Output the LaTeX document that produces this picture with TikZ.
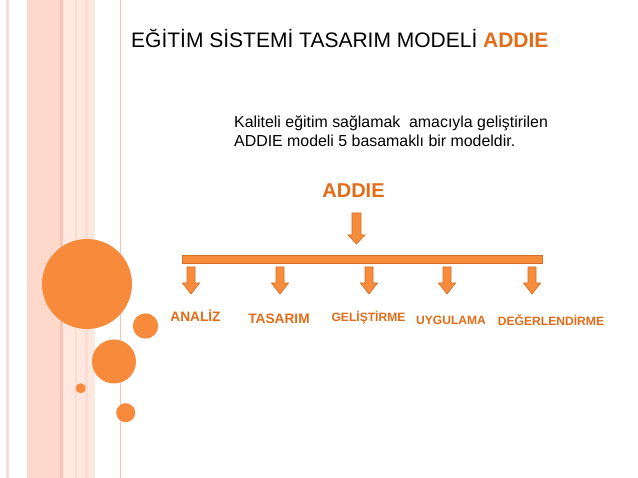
\documentclass[tikz,border=0pt]{standalone}
\usepackage{fontspec}
\setmainfont{Liberation Sans}
\definecolor{circ}{RGB}{248,138,60}
\definecolor{afill}{RGB}{246,140,60}
\definecolor{adraw}{RGB}{214,110,40}
\definecolor{dark}{RGB}{226,108,24}
\definecolor{pinkA}{RGB}{255,216,204}
\definecolor{pinkB}{RGB}{250,196,180}
\definecolor{pinkC}{RGB}{255,232,224}
\definecolor{pinkD}{RGB}{252,220,210}
\begin{document}
\begin{tikzpicture}[x=1pt,y=-1pt,
  stripe/.style={fill=#1,draw=none},
  dot/.style={fill=circ,draw=none},
  title/.style={font=\fontsize{21}{24}\selectfont,anchor=base west,inner sep=0},
  body/.style={font=\fontsize{15.9}{19}\selectfont,anchor=north west,align=left,inner sep=0},
  lbl/.style={font=\bfseries\fontsize{12.1}{14}\selectfont,text=dark,inner sep=0},
  lblbig/.style={font=\bfseries\fontsize{13.7}{16}\selectfont,text=dark,inner sep=0},
  blk/.style={fill=afill,draw=adraw,line width=0.7pt,line join=miter},
  smallarrow/.pic={\path[blk] (-4,0) -- (4,0) -- (4,16) -- (8.5,16) -- (0,27) -- (-8.5,16) -- (-4,16) -- cycle;}
]
\useasboundingbox (0,0) rectangle (638,478);
\fill[white] (0,0) rectangle (638,478);
% left stripes
\fill[pinkD] (6,0) rectangle (9,478);
\fill[pinkA] (27,0) rectangle (61,478);
\fill[pinkB] (60,0) rectangle (63,478);
\fill[pinkC] (63,0) rectangle (75,478);
\fill[pinkD] (75,0) rectangle (77,478);
\fill[pinkC] (77,0) rectangle (85,478);
\fill[pinkD] (85,0) rectangle (88,478);
\fill[pinkC] (88,0) rectangle (95,478);
\fill[pinkB] (119.5,0) rectangle (120.8,478);
% circles
\fill[dot] (87,284) circle (45);
\fill[dot] (145.5,326) circle (12.7);
\fill[dot] (114,361.5) circle (22);
\fill[dot] (80.7,388.3) circle (5);
\fill[dot] (125.7,412.7) circle (9.5);
% title
\node[title] (title) at (131,48) {EĞİTİM SİSTEMİ TASARIM MODELİ \textcolor{dark}{\bfseries ADDIE}};
% body text
\node[body] (body) at (234,115.3) {Kaliteli eğitim sağlamak\ \ amacıyla geliştirilen\\ADDIE modeli 5 basamaklı bir modeldir.};
% ADDIE
\node[font=\bfseries\fontsize{20}{24}\selectfont,text=dark,inner sep=0,anchor=base] (addie) at (353.5,197.3) {ADDIE};
% big arrow
\path[blk] (352,213) -- (361,213) -- (361,235) -- (365,235) -- (356.5,244) -- (348,235) -- (352,235) -- cycle;
% bar
\node[blk,minimum width=360pt,minimum height=7.5pt,inner sep=0,anchor=north west] (bar) at (182,255.3) {};
% small arrows
\pic at (191,267) {smallarrow};
\pic at (280,267) {smallarrow};
\pic at (369,267) {smallarrow};
\pic at (447,267) {smallarrow};
\pic at (532,267) {smallarrow};
% labels
\node[lblbig] (l1) at (195.5,316) {ANALİZ};
\node[lblbig] (l2) at (279,319) {TASARIM};
\node[lbl] (l3) at (368.5,318) {GELİŞTİRME};
\node[lbl] (l4) at (451,320) {UYGULAMA};
\node[lbl] (l5) at (551,320) {DEĞERLENDİRME};
\end{tikzpicture}
\end{document}
